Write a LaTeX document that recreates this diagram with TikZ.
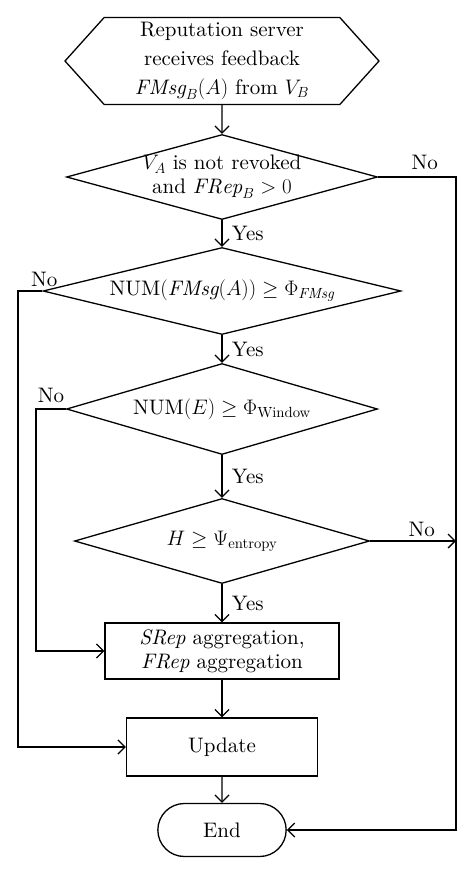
\RequirePackage{fix-cm}
\documentclass[tikz,border=0pt]{standalone}
\usepackage{amsmath, amssymb}
\usepackage{fontspec}
\setmainfont{lmroman10-regular.otf}[ItalicFont=lmroman10-italic.otf,
  BoldFont=lmroman10-bold.otf]
\usetikzlibrary{shapes.geometric, shapes.symbols, shapes.misc, arrows.meta}

\begin{document}
\begin{tikzpicture}[x=1pt, y=-1pt, line width=1.3pt,
        every node/.style={font=\fontsize{21}{29}\selectfont},
        tight/.style={font=\fontsize{21}{24}\selectfont},
        flow/.style={-{Straight Barb[length=7pt, width=14pt]}},
        decision/.style={draw, diamond, inner sep=0pt},
        process/.style={draw, rectangle, align=center}]
      \useasboundingbox (0,0) rectangle (474,876);
      % start
      \node[draw, signal, signal to=west and east, signal pointer angle=96,
            minimum width=314pt, minimum height=87pt, inner sep=0pt, align=center]
            (start) at (222,61) {Reputation server\\ receives feedback\\
              $\mathit{FMsg}_B(A)$ from $V_B$};
      % decisions
      \node[decision, minimum width=311pt, minimum height=85pt,
            label={[align=center, tight]center:$V_A$ is not revoked\\ and $\mathit{FRep}_B > 0$}]
            (check) at (222,177) {};
      \node[decision, minimum width=358pt, minimum height=87pt,
            label={center:NUM$(\mathit{FMsg}(A)) \geq \Phi_{\mathit{FMsg}}$}]
            (nummsg) at (222,291) {};
      \node[decision, minimum width=311pt, minimum height=91pt,
            label={center:NUM$(E) \geq \Phi_{\text{Window}}$}]
            (numwin) at (222,409) {};
      \node[decision, minimum width=295pt, minimum height=85pt,
            label={center:$H \geq \Psi_{\text{entropy}}$}]
            (entropy) at (222,541) {};
      % processes
      \node[process, tight, minimum width=234pt, minimum height=56pt, inner sep=0pt]
            (aggr) at (222,651) {\textit{SRep} aggregation,\\ \textit{FRep} aggregation};
      \node[process, minimum width=191pt, minimum height=58pt]
            (update) at (222,747) {Update};
      \node[draw, rounded rectangle, minimum width=135pt, minimum height=53pt]
            (end) at (222,830) {End};
      % side lines
      \coordinate (rline) at (456,0);
      \coordinate (lline) at (18,0);
      \coordinate (mline) at (36,0);
      % connectors
      \draw[flow] (start) -- (check);
      \draw[flow] (check) -- (nummsg) node[midway, right, xshift=6pt] {Yes};
      \draw[flow] (nummsg) -- (numwin) node[midway, right, xshift=6pt] {Yes};
      \draw[flow] (numwin) -- (entropy) node[midway, right, xshift=6pt] {Yes};
      \draw[flow] (entropy) -- (aggr) node[midway, right, xshift=6pt] {Yes};
      \draw[flow] (aggr) -- (update);
      \draw[flow] (update) -- (end);
      \draw[flow] (check.east) -- node[pos=0.6, above, yshift=3pt] {No} (check.east -| rline)
            |- (end.east);
      \draw[flow] (entropy.east) -- node[pos=0.6, above] {No} (entropy.east -| rline);
      \draw[flow] (nummsg.west) -- node[pos=0, above, xshift=2pt] {No} (nummsg.west -| lline)
            |- (update.west);
      \draw[flow] (numwin.west) -- node[midway, above, yshift=2pt] {No} (numwin.west -| mline)
            |- (aggr.west);
    \end{tikzpicture}
\end{document}
